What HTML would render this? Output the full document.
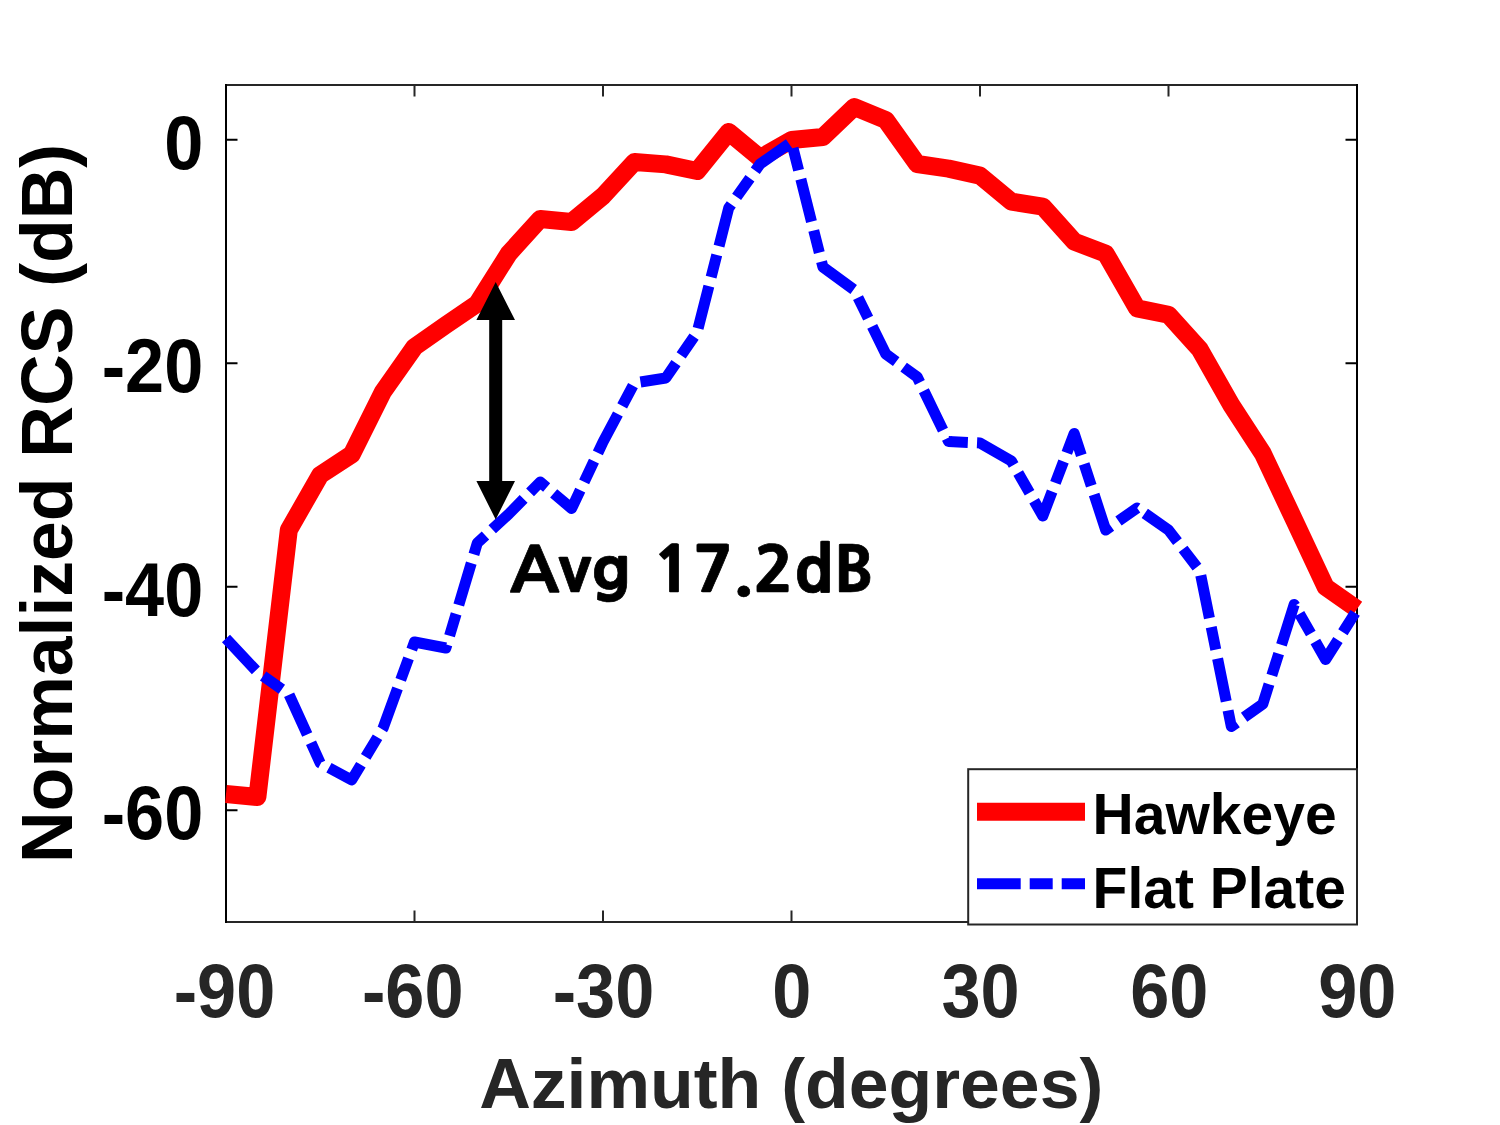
<!DOCTYPE html>
<html lang="en"><head><meta charset="utf-8"><title>Normalized RCS vs Azimuth</title>
<style>
html,body{margin:0;padding:0;background:#fff;}
body{width:1500px;height:1125px;overflow:hidden;}
svg{display:block;}
text{font-family:"Liberation Sans",Arial,Helvetica,sans-serif;font-weight:bold;}
.ann{font-family:"NanumGothic","Liberation Sans",sans-serif;font-weight:800;}
</style></head><body>
<svg width="1500" height="1125" viewBox="0 0 1500 1125">
<rect x="0" y="0" width="1500" height="1125" fill="#ffffff"/>
<path d="M225.0,85.0H1358.0M225.0,922.0H1358.0" fill="none" stroke="#262626" stroke-width="2"/>
<path d="M226.0,84.0V923.0M1357.0,84.0V923.0" fill="none" stroke="#000" stroke-width="2"/>
<path d="M414.5,922.0v-11.5M414.5,85.0v11.5M603.0,922.0v-11.5M603.0,85.0v11.5M791.5,922.0v-11.5M791.5,85.0v11.5M980.0,922.0v-11.5M980.0,85.0v11.5M1168.5,922.0v-11.5M1168.5,85.0v11.5" fill="none" stroke="#262626" stroke-width="2"/>
<path d="M226.0,139.8h11.5M1357.0,139.8h-11.5M226.0,363.2h11.5M1357.0,363.2h-11.5M226.0,586.8h11.5M1357.0,586.8h-11.5M226.0,810.2h11.5M1357.0,810.2h-11.5" fill="none" stroke="#000" stroke-width="2"/>
<polyline points="226.0,794.0 257.4,797.0 288.8,530.0 320.2,475.0 351.7,454.4 383.1,391.6 414.5,347.0 445.9,325.0 477.3,303.6 508.8,253.6 540.2,219.0 571.6,222.0 603.0,196.0 634.4,162.0 665.8,164.4 697.2,171.0 728.7,132.0 760.1,158.0 791.5,140.0 822.9,137.0 854.3,107.0 885.8,120.0 917.2,164.0 948.6,168.6 980.0,175.6 1011.4,201.6 1042.8,206.6 1074.2,241.6 1105.7,253.6 1137.1,308.4 1168.5,314.7 1199.9,349.6 1231.3,405.0 1262.8,453.5 1294.2,520.0 1325.6,587.0 1357.0,609.0" fill="none" stroke="#ff0000" stroke-width="18" stroke-linejoin="round" stroke-linecap="butt"/>
<polyline points="226.0,638.5 257.4,672.0 288.8,694.0 320.2,763.0 351.7,780.0 383.1,728.0 414.5,642.0 445.9,648.0 477.3,543.0 508.8,514.0 540.2,482.0 571.6,508.5 603.0,442.0 634.4,383.0 665.8,378.0 697.2,332.0 728.7,208.0 760.1,164.0 791.5,142.0 822.9,267.0 854.3,290.0 885.8,354.0 917.2,377.0 948.6,441.6 980.0,443.0 1011.4,461.0 1042.8,516.0 1074.2,433.5 1105.7,530.0 1137.1,508.0 1168.5,530.0 1199.9,571.0 1231.3,726.5 1262.8,704.0 1294.2,604.5 1325.6,659.5 1357.0,610.0" fill="none" stroke="#0000ff" stroke-width="11" stroke-linejoin="round" stroke-linecap="butt" stroke-dasharray="43.7 9.2 22.9 9.2"/>
<path d="M495.7,282 L515,320 L502.2,320 L502.2,481 L515,481 L495.7,519.5 L476.4,481 L489.2,481 L489.2,320 L476.4,320 Z" fill="#000"/>
<text class="ann" transform="translate(510.3,591.6) scale(1.08,1)" word-spacing="2.6" font-size="61.6" fill="#000" stroke="#000" stroke-width="0.7" stroke-linejoin="miter">Avg 17.2dB</text>
<rect x="968.2" y="769.2" width="388.79999999999995" height="155.29999999999995" fill="#fff" stroke="#262626" stroke-width="2"/>
<line x1="977" y1="811.8" x2="1085" y2="811.8" stroke="#ff0000" stroke-width="18"/>
<line x1="977" y1="883.8" x2="1085" y2="883.8" stroke="#0000ff" stroke-width="11" stroke-dasharray="43.7 9 23 9"/>
<text x="1092.6" y="834.4" font-size="57" fill="#000">Hawkeye</text>
<text x="1092.6" y="907.5" font-size="57" fill="#000">Flat Plate</text>
<text transform="translate(224.5,1016.5) scale(0.925,1)" font-size="76" text-anchor="middle" fill="#262626">-90</text>
<text transform="translate(412.7,1016.5) scale(0.925,1)" font-size="76" text-anchor="middle" fill="#262626">-60</text>
<text transform="translate(603.5,1016.5) scale(0.925,1)" font-size="76" text-anchor="middle" fill="#262626">-30</text>
<text transform="translate(791.8,1016.5) scale(0.925,1)" font-size="76" text-anchor="middle" fill="#262626">0</text>
<text transform="translate(980.5,1016.5) scale(0.925,1)" font-size="76" text-anchor="middle" fill="#262626">30</text>
<text transform="translate(1169.3,1016.5) scale(0.925,1)" font-size="76" text-anchor="middle" fill="#262626">60</text>
<text transform="translate(1357.3,1016.5) scale(0.925,1)" font-size="76" text-anchor="middle" fill="#262626">90</text>
<text transform="translate(203.3,168.7) scale(0.925,1)" font-size="76" text-anchor="end" fill="#000">0</text>
<text transform="translate(203.3,392.1) scale(0.925,1)" font-size="76" text-anchor="end" fill="#000">-20</text>
<text transform="translate(203.3,615.7) scale(0.925,1)" font-size="76" text-anchor="end" fill="#000">-40</text>
<text transform="translate(203.3,839.1) scale(0.925,1)" font-size="76" text-anchor="end" fill="#000">-60</text>
<text transform="translate(791.2,1108.3) scale(1.008,1)" font-size="71" text-anchor="middle" fill="#262626">Azimuth (degrees)</text>
<text transform="translate(72,503.4) rotate(-90)" font-size="71.5" text-anchor="middle" fill="#000">Normalized RCS (dB)</text>
</svg></body></html>
